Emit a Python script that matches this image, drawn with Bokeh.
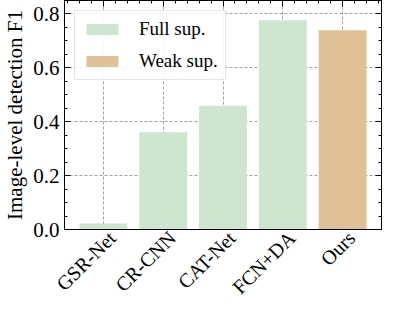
from bokeh.plotting import figure
from bokeh.models import (ColumnDataSource, LinearAxis, FixedTicker, SingleIntervalTicker,
                          PrintfTickFormatter, Range1d, CustomJSTickFormatter)
from bokeh.transform import factor_cmap
from bokeh.embed import file_html
from bokeh.resources import INLINE
import math

categories = ["GSR-Net", "CR-CNN", "CAT-Net", "FCN+DA", "Ours"]
f1_values = [0.022, 0.361, 0.459, 0.777, 0.740]
supervision = ["Full sup.", "Full sup.", "Full sup.", "Full sup.", "Weak sup."]
sup_levels = ["Full sup.", "Weak sup."]
sup_colors = ["#cee6d0", "#e0c196"]
y_ticks = [0.0, 0.2, 0.4, 0.6, 0.8]

FONT = "Liberation Serif"
LABEL_SHIFT = 0.15  # rotated labels end slightly right of the bar centre

positions = list(range(len(categories)))
src = ColumnDataSource(dict(x=positions, y=f1_values, sup=supervision, name=categories))

p = figure(width=386, height=308, output_backend="svg", toolbar_location=None,
           x_range=Range1d(-0.65, len(categories) - 0.35), y_range=Range1d(0, 0.85),
           min_border_left=54, min_border_right=5, min_border_top=0, min_border_bottom=60)

p.vbar(x="x", top="y", width=0.8, source=src, line_color=None,
       fill_color=factor_cmap("sup", sup_colors, sup_levels), legend_field="sup")

blank = CustomJSTickFormatter(code="return ''")

# bottom axis
xa = p.xaxis[0]
xa.ticker = FixedTicker(ticks=[i + LABEL_SHIFT for i in positions], minor_ticks=[])
xa.formatter = CustomJSTickFormatter(args=dict(names=categories, shift=LABEL_SHIFT),
                                     code="return names[Math.round(tick - shift)]")
xa.major_label_orientation = math.pi / 4
xa.major_tick_in = 0
xa.major_tick_out = 0
xa.minor_tick_in = 0
xa.minor_tick_out = 0
xa.major_label_text_font = FONT
xa.major_label_text_font_size = "20px"
xa.major_label_text_color = "black"
xa.major_label_standoff = 5
xa.axis_line_color = "black"

# left axis
ya = p.yaxis[0]
ya.ticker = SingleIntervalTicker(interval=0.2, num_minor_ticks=4)
ya.formatter = PrintfTickFormatter(format="%.1f")
ya.major_tick_in = 6
ya.major_tick_out = 0
ya.minor_tick_in = 3
ya.minor_tick_out = 0
ya.major_label_text_font = FONT
ya.major_label_text_font_size = "21px"
ya.major_label_text_color = "black"
ya.major_label_standoff = 5
ya.axis_label = "Image-level detection F1"
ya.axis_label_text_font = FONT
ya.axis_label_text_font_size = "21px"
ya.axis_label_text_font_style = "normal"
ya.axis_label_text_color = "black"
ya.axis_label_standoff = 3
ya.axis_line_color = "black"

# top axis
minor_top = [i + k * 0.2 for i in range(-1, len(categories) + 1) for k in range(1, 5)]
top = LinearAxis(ticker=FixedTicker(ticks=positions, minor_ticks=minor_top),
                 formatter=blank,
                 major_tick_in=6, major_tick_out=0, minor_tick_in=3, minor_tick_out=0,
                 major_label_standoff=0, axis_line_color="black")
p.add_layout(top, "above")

# right axis
right = LinearAxis(ticker=SingleIntervalTicker(interval=0.2, num_minor_ticks=4),
                   formatter=blank,
                   major_tick_in=6, major_tick_out=0, minor_tick_in=3, minor_tick_out=0,
                   major_label_standoff=0, axis_line_color="black")
p.add_layout(right, "right")

# grids
p.xgrid.ticker = FixedTicker(ticks=positions)
p.ygrid.ticker = FixedTicker(ticks=y_ticks)
for g in (p.xgrid[0], p.ygrid[0]):
    g.grid_line_color = "#8a8a8a"
    g.grid_line_dash = "3 2"
    g.grid_line_width = 0.8

p.outline_line_color = "black"
p.background_fill_color = "white"
p.border_fill_color = "white"

leg = p.legend[0]
leg.location = "top_left"
leg.margin = 10
leg.padding = 7
leg.spacing = 10
leg.glyph_width = 40
leg.glyph_height = 14
leg.label_height = 22
leg.label_standoff = 17
leg.label_text_font = FONT
leg.label_text_font_size = "19px"
leg.label_text_color = "black"
leg.border_line_color = "#cccccc"
leg.border_line_width = 1
leg.background_fill_alpha = 0.9

open("out.html", "w").write(file_html(p, INLINE))
